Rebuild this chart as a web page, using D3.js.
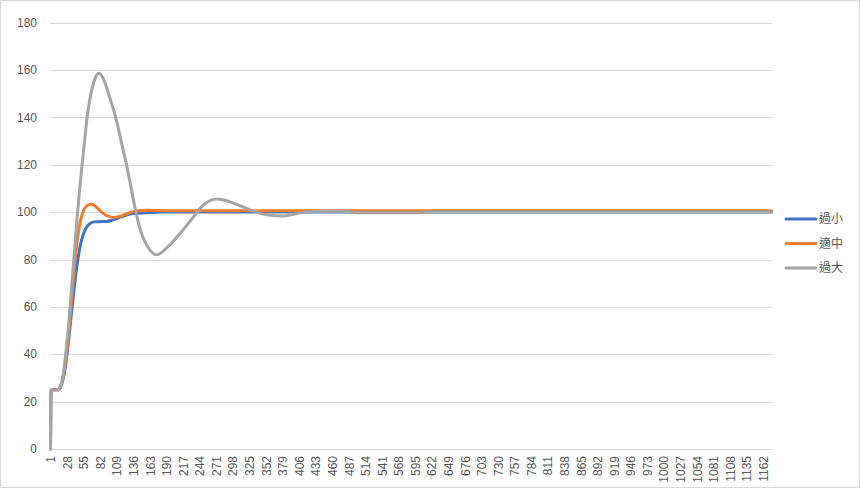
<!DOCTYPE html>
<html>
<head>
<meta charset="utf-8">
<script src="https://cdn.jsdelivr.net/npm/d3@7"></script>
<style>
  body { margin: 0; background: #fff; }
  text { font-family: "Liberation Sans", "Noto Sans CJK TC", sans-serif; fill: #595959; }
</style>
</head>
<body>
<div id="chart"></div>
<script>
// categories 1..1176, a label every 27th
const categories = d3.range(1, 1177);
const tickLabels = categories.filter((d, i) => i % 27 === 0);
const yTicks = [0, 20, 40, 60, 80, 100, 120, 140, 160, 180];

const seriesNames = ["過小", "適中", "過大"];
const seriesColors = ["#4472C4", "#ED7D31", "#A5A5A5"];

// [category, value]
const tooSmall = [[1,0],[2,25],[14,25],[18,26.5],[22,30],[27,38],[31,47],[35,57],[40,69],[45,79],[50,86.5],[55,91],[60,93.8],[66,95.3],[72,95.9],[80,96],[92,96.1],[100,96.5],[108,97.2],[116,98],[125,98.8],[135,99.4],[150,99.6],[180,100.1],[1176,100.1]];
const justRight = [[1,0],[2,25],[14,25],[18,27],[22,31],[27,40],[31,50],[35,62],[40,77],[45,89],[50,96.5],[55,100.8],[61,102.8],[68,103.3],[75,102.3],[84,100],[93,98.5],[103,97.8],[113,98.2],[125,99.3],[140,100.5],[160,100.8],[200,100.6],[1176,100.6]];
const tooLarge = [[1,0],[2,25],[14,25],[18,27],[22,32],[27,43],[33,60],[38,77],[42,90],[45,99.5],[49,111],[53,121.5],[57,131],[60,138.8],[65,147.5],[70,153.5],[75,157.3],[80,158.7],[86,157],[92,153],[98,148],[104,143],[110,137],[117,129],[124,121],[131,112],[137,104],[142,98],[148,92],[155,87.5],[163,84],[174,82],[190,84.8],[212,91],[234,98],[245,101.7],[258,104.5],[271,105.6],[285,105],[299,103.8],[326,101],[353,98.9],[380,98.4],[407,99.6],[433,100.4],[480,100.4],[500,99.8],[600,99.8],[620,100.1],[1176,100.1]];
const allSeries = [tooSmall, justRight, tooLarge];

const W = 860, H = 488;
const svg = d3.select("#chart").append("svg")
    .attr("width", W)
    .attr("height", H);

// chart border
svg.append("rect")
    .attr("x", 0.5).attr("y", 0.5)
    .attr("width", W - 1).attr("height", H - 1)
    .attr("fill", "#fff")
    .attr("stroke", "#D9D9D9");

const x = d3.scalePoint()
    .domain(categories)
    .range([50.5, 771.7]);

const y = d3.scaleLinear()
    .domain([0, 180])
    .range([449, 22.7]);

// horizontal gridlines
svg.append("g")
  .selectAll("line")
  .data(yTicks)
  .join("line")
    .attr("x1", 50).attr("x2", 772)
    .attr("y1", d => Math.round(y(d)) + 0.5)
    .attr("y2", d => Math.round(y(d)) + 0.5)
    .attr("stroke", "#D9D9D9")
    .attr("stroke-width", 1);

// y axis labels
svg.append("g")
  .selectAll("text")
  .data(yTicks)
  .join("text")
    .attr("x", 37)
    .attr("y", d => y(d))
    .attr("dy", "0.35em")
    .attr("text-anchor", "end")
    .style("font-size", "12px")
    .text(d => d);

// x axis, rotated labels
const xAxis = svg.append("g")
    .attr("transform", "translate(0, 449)")
    .call(d3.axisBottom(x).tickValues(tickLabels).tickSize(0).tickPadding(0));
xAxis.select(".domain").remove();
xAxis.selectAll("text")
    .attr("transform", "rotate(-90)")
    .attr("x", -7)
    .attr("y", 0)
    .attr("dy", "0.35em")
    .attr("text-anchor", "end")
    .style("font-size", "12px")
    .style("font-family", "Liberation Sans")
    .attr("fill", "#595959");

// lines
const line = d3.line()
    .x(d => x(d[0]))
    .y(d => y(d[1]))
    .curve(d3.curveMonotoneX);

allSeries.forEach((s, i) => {
  svg.append("path")
      .datum(s)
      .attr("d", line)
      .attr("fill", "none")
      .attr("stroke", seriesColors[i])
      .attr("stroke-width", 3)
      .attr("stroke-linejoin", "round")
      .attr("stroke-linecap", "round");
});

// legend
const legend = svg.append("g");
seriesNames.forEach((name, i) => {
  const ly = 219 + i * 24.5;
  legend.append("line")
      .attr("x1", 786).attr("x2", 816)
      .attr("y1", ly).attr("y2", ly)
      .attr("stroke", seriesColors[i])
      .attr("stroke-width", 3)
      .attr("stroke-linecap", "round");
  legend.append("text")
      .attr("x", 819)
      .attr("y", ly)
      .attr("dy", "0.35em")
      .style("font-size", "12px")
      .style("font-family", "Noto Sans CJK TC")
      .text(name);
});
</script>
</body>
</html>
